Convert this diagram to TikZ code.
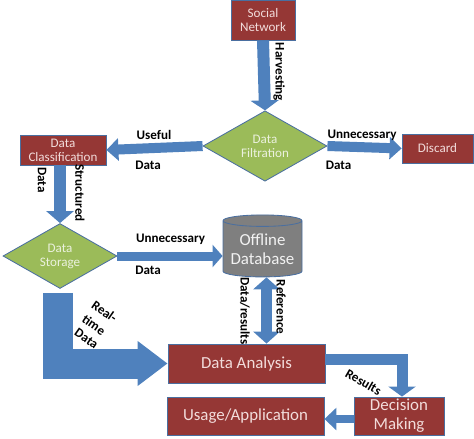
\documentclass[tikz,border=0pt]{standalone}
\usepackage{fontspec}
\setmainfont{Carlito}
\usetikzlibrary{arrows.meta}
\usetikzlibrary{shapes.geometric}
\definecolor{boxred}{HTML}{953735}
\definecolor{edgeblue}{HTML}{4A6FA0}
\definecolor{flowblue}{HTML}{4F81BD}
\definecolor{leafgreen}{HTML}{9BBB59}
\definecolor{dbgray}{HTML}{7F7F7F}
\definecolor{pinktext}{HTML}{F2DCDB}
\definecolor{greentext}{HTML}{EBF1DE}
\tikzset{%
    block/.style={shape=rectangle,draw=edgeblue,fill=boxred,semithick,text=pinktext,inner sep=0pt,align=center},
    decision/.style={shape=diamond,draw=edgeblue,fill=leafgreen,semithick,text=greentext,inner sep=0pt,align=center,font=\fontsize{9.3}{10}\selectfont},
    small/.style={font=\fontsize{9.3}{10}\selectfont},
    large/.style={font=\fontsize{12}{13.5}\selectfont},
    tag/.style={font=\fontsize{9.3}{10}\selectfont\bfseries,inner sep=0pt,align=center},
    flow/.style n args={3}{draw=flowblue,line width=#1,line join=miter,-{Triangle[width=#2,length=#3]}},
}

\begin{document}
\begin{tikzpicture}[x=0.25mm,y=-0.25mm]
            \useasboundingbox (0,0) rectangle (474,438);

            %bloki
            \node[block,small,minimum width=16mm,minimum height=10mm] (social) at (263,20) {Social\\Network};
            \node[decision,minimum width=31mm,minimum height=14mm] (filter) at (265,146) {Data\\Filtration};
            \node[block,small,minimum width=21.5mm,minimum height=7.5mm] (classify) at (63,150) {Data\\Classification};
            \node[block,small,minimum width=17.75mm,minimum height=7.25mm] (discard) at (437.5,148.5) {Discard};
            \node[decision,minimum width=28.5mm,minimum height=12mm] (storage) at (60,256) {Data\\Storage};
            \node[shape=cylinder,shape border rotate=90,aspect=0.18,draw=edgeblue,fill=dbgray,semithick,text=white!95!black,
                  large,align=center,inner sep=0pt,minimum width=19.75mm,minimum height=15.5mm] (offline) at (262.5,249) {Offline\\Database};
            \node[block,large,minimum width=39.25mm,minimum height=9.75mm] (analysis) at (246.5,363.5) {Data Analysis};
            \node[block,large,minimum width=22.5mm,minimum height=9.5mm] (decide) at (399,416) {Decision\\Making};
            \node[block,large,minimum width=39.25mm,minimum height=9.5mm] (usage) at (245.5,416) {Usage/Application};

            %puščice
            \draw[flow={3mm}{7mm}{2.5mm}] (social.south) -- (filter.north);
            \draw[flow={2.5mm}{5.5mm}{3mm}] (filter.west) -- (classify.east);
            \draw[flow={2.5mm}{5.5mm}{3mm}] (filter.east) -- (discard.west);
            \draw[flow={3mm}{6.75mm}{3mm}] (classify.south -| storage.north) -- (storage.north);
            \draw[flow={2.25mm}{5.5mm}{2.5mm}] (storage.east) -- (storage.east -| offline.west);
            \draw[draw=flowblue,line width=2.75mm,{Triangle[width=6.5mm,length=3mm]}-{Triangle[width=6.5mm,length=3mm]}]
                ([xshift=1mm]offline.south) -- ([xshift=1mm]offline.south |- analysis.north);
            \draw[flow={7.5mm}{10.75mm}{7.5mm},shorten <=1mm] ([xshift=-0.5mm]storage.south) |- (analysis.west);
            \draw[flow={2.75mm}{6.75mm}{2.5mm}] ([yshift=1mm]analysis.east) -| ([xshift=0.75mm]decide.north);
            \draw[flow={2mm}{5.5mm}{3mm}] ([yshift=-0.75mm]decide.west) -- ([yshift=-0.75mm]usage.east);

            %oznake
            \node[tag,rotate=-90] (harvest) at (279,72) {Harvesting};
            \node[tag] (useful) at (154,135) {Useful};
            \node[tag] (usefuldata) at (148,165) {Data};
            \node[tag] (waste) at (362,135) {Unnecessary};
            \node[tag] (wastedata) at (338.5,165) {Data};
            \node[tag,rotate=-90] (structdata) at (42,180) {Data};
            \node[tag,rotate=-90] (structured) at (80,193) {Structured};
            \node[tag] (spare) at (170.5,239) {Unnecessary};
            \node[tag] (sparedata) at (148,270) {Data};
            \node[tag,rotate=-90] (results) at (245,311) {Data/results};
            \node[tag,rotate=-90] (reference) at (281,307) {Reference};
            \node[tag,rotate=-35] (real) at (104.5,311.5) {Real-};
            \node[tag,rotate=-35] (time) at (94,325) {time};
            \node[tag,rotate=-35] (realdata) at (86.5,338.5) {Data};
            \node[tag,rotate=-30] (outcome) at (363.5,382) {Results};
        \end{tikzpicture}
\end{document}
